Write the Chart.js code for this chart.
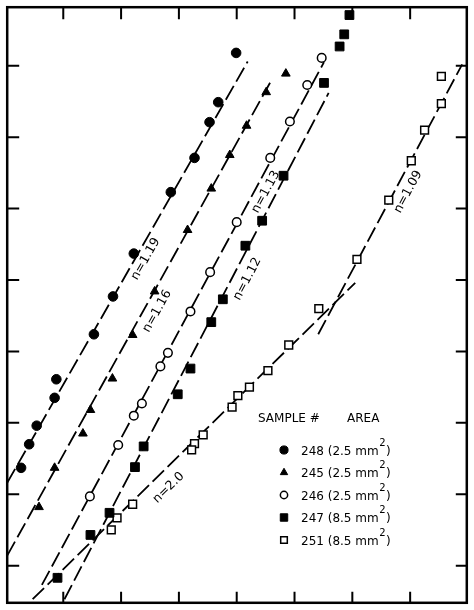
<!DOCTYPE html>
<html>
<head>
<meta charset="utf-8">
<script src="https://cdn.jsdelivr.net/npm/chart.js@4.4.0/dist/chart.umd.min.js"></script>
<style>
  html, body { margin: 0; padding: 0; background: #fff; }
</style>
</head>
<body>
<canvas id="chart" width="474" height="610"></canvas>
<script>
// sample ids and contact areas (legend)
const samples = ["248", "245", "246", "247", "251"];
const areas = ["2.5", "2.5", "2.5", "8.5", "8.5"];

// measured points, axis units (no printed scale on the original)
const x248 = [3.99, 3.68, 3.53, 3.27, 2.86, 2.22, 1.86, 1.53, 0.88, 0.85, 0.54, 0.41, 0.27];
const y248 = [7.18, 6.49, 6.21, 5.71, 5.23, 4.37, 3.77, 3.24, 2.61, 2.35, 1.96, 1.70, 1.37];
const x245 = [4.85, 4.51, 4.17, 3.88, 3.56, 3.15, 2.58, 2.20, 1.85, 1.47, 1.34, 0.85, 0.58];
const y245 = [6.89, 6.63, 6.16, 5.75, 5.28, 4.70, 3.84, 3.23, 2.62, 2.18, 1.85, 1.37, 0.82];
const x246 = [5.47, 5.22, 4.92, 4.58, 4.00, 3.54, 3.20, 2.81, 2.68, 2.36, 2.22, 1.95, 1.46];
const y246 = [7.11, 6.73, 6.22, 5.71, 4.81, 4.11, 3.56, 2.98, 2.79, 2.27, 2.10, 1.69, 0.97];
const x247 = [5.95, 5.86, 5.78, 5.51, 4.81, 4.44, 4.15, 3.76, 3.56, 3.20, 2.98, 2.39, 2.24, 1.80, 1.47, 0.90];
const y247 = [7.71, 7.44, 7.27, 6.76, 5.46, 4.83, 4.48, 3.73, 3.41, 2.76, 2.40, 1.67, 1.38, 0.74, 0.43, -0.17];
const x251 = [7.54, 7.54, 7.25, 7.02, 6.63, 6.08, 5.42, 4.90, 4.54, 4.22, 4.02, 3.92, 3.42, 3.27, 3.22, 2.20, 1.93, 1.83];
const y251 = [6.85, 6.47, 6.10, 5.67, 5.12, 4.29, 3.60, 3.09, 2.73, 2.50, 2.38, 2.22, 1.83, 1.71, 1.62, 0.86, 0.67, 0.50];

// fitted lines: end points and the slope notes beside them
const fitNames = ["n=1.19", "n=1.16", "n=1.13", "n=1.12", "n=1.09", "n=2.0"];
const fitX0 = [0.03, 0.03, 0.63, 1.02, 5.41, 0.47];
const fitY0 = [1.16, 0.14, -0.27, -0.47, 3.24, -0.47];
const fitX1 = [4.19, 4.61, 5.51, 5.59, 7.90, 6.05];
const fitY1 = [7.06, 6.81, 7.05, 6.62, 7.02, 3.96];
const noteX = [2.41, 2.61, 4.49, 4.17, 6.95, 2.81];
const noteY = [4.30, 3.57, 5.24, 4.02, 5.24, 1.10];

const xTicks = [1, 2, 3, 4, 5, 6, 7];
const yTicks = [0, 1, 2, 3, 4, 5, 6, 7];

const xs = [x248, x245, x246, x247, x251];
const ys = [y248, y245, y246, y247, y251];
const markers = [
    {pointStyle: "circle", radius: 4.8, fill: "#000", width: 1},
    {pointStyle: "triangle", radius: 5, fill: "#000", width: 1},
    {pointStyle: "circle", radius: 4.3, fill: "#fff", width: 1.5},
    {pointStyle: "rect", radius: 6.2, fill: "#000", width: 1},
    {pointStyle: "rect", radius: 5.5, fill: "#fff", width: 1.5}
];

const pointSets = samples.map((s, i) => ({
    label: `${s} (${areas[i]} mm²)`,
    data: xs[i].map((x, j) => ({x: x, y: ys[i][j]})),
    showLine: false,
    pointStyle: markers[i].pointStyle,
    pointRadius: markers[i].radius,
    pointBackgroundColor: markers[i].fill,
    pointBorderColor: "#000",
    pointBorderWidth: markers[i].width,
    order: 0
}));

const lineSets = fitNames.map((n, i) => ({
    label: n,
    data: [{x: fitX0[i], y: fitY0[i]}, {x: fitX1[i], y: fitY1[i]}],
    showLine: true,
    borderColor: "#000",
    borderWidth: 1.8,
    borderDash: [16, 5],
    pointRadius: 0,
    order: 1
}));

const framePlugin = {
    id: "frame",
    afterDatasetsDraw: (chart) => {
        const {ctx, chartArea: {left, right, top, bottom}, scales: {x, y}} = chart;
        ctx.save();
        ctx.strokeStyle = "#000";
        ctx.fillStyle = "#000";

        // slope notes, turned along their line
        ctx.font = "12.5px 'DejaVu Sans'";
        ctx.textAlign = "center";
        ctx.textBaseline = "middle";
        fitNames.forEach((n, i) => {
            const ang = Math.atan2(y.getPixelForValue(fitY1[i]) - y.getPixelForValue(fitY0[i]),
                x.getPixelForValue(fitX1[i]) - x.getPixelForValue(fitX0[i]));
            ctx.save();
            ctx.translate(x.getPixelForValue(noteX[i]), y.getPixelForValue(noteY[i]));
            ctx.rotate(ang);
            ctx.fillText(n, 0, 1);
            ctx.restore();
        });

        // legend block
        ctx.textAlign = "left";
        ctx.textBaseline = "alphabetic";
        ctx.font = "12px 'DejaVu Sans'";
        ctx.fillText("SAMPLE #", 258, 422);
        ctx.fillText("AREA", 347, 422);
        samples.forEach((s, i) => {
            const cy = 450 + i * 22.5;
            ctx.fillStyle = markers[i].fill;
            ctx.lineWidth = markers[i].width;
            Chart.helpers.drawPoint(ctx, {
                pointStyle: markers[i].pointStyle,
                radius: markers[i].radius * 0.85,
                borderWidth: markers[i].width,
                rotation: 0
            }, 284, cy);
            ctx.fillStyle = "#000";
            ctx.font = "12px 'DejaVu Sans'";
            const base = `${s} (${areas[i]} mm`;
            ctx.fillText(base, 301, cy + 4.5);
            let px = 301 + ctx.measureText(base).width;
            ctx.font = "10px 'DejaVu Sans'";
            ctx.fillText("2", px + 0.5, cy - 4.5);
            px += ctx.measureText("2").width + 1;
            ctx.font = "12px 'DejaVu Sans'";
            ctx.fillText(")", px, cy + 4.5);
        });

        // frame and inward ticks
        ctx.lineWidth = 2.5;
        ctx.strokeRect(left, top, right - left, bottom - top);
        ctx.lineWidth = 2;
        ctx.beginPath();
        xTicks.forEach(v => {
            const px = x.getPixelForValue(v);
            ctx.moveTo(px, bottom);
            ctx.lineTo(px, bottom - 11);
            ctx.moveTo(px, top);
            ctx.lineTo(px, top + 12);
        });
        yTicks.forEach(v => {
            const py = y.getPixelForValue(v);
            ctx.moveTo(left, py);
            ctx.lineTo(left + 12, py);
            ctx.moveTo(right, py);
            ctx.lineTo(right - 11, py);
        });
        ctx.stroke();
        ctx.restore();
    }
};

new Chart(document.getElementById("chart"), {
    type: "scatter",
    data: {datasets: [...pointSets, ...lineSets]},
    options: {
        responsive: false,
        animation: false,
        layout: {padding: {left: 3, right: 2, top: 1, bottom: 4}},
        plugins: {legend: {display: false}, tooltip: {enabled: false}},
        scales: {
            x: {type: "linear", min: 0.03, max: 7.98, display: false},
            y: {type: "linear", min: -0.52, max: 7.82, display: false}
        }
    },
    plugins: [framePlugin]
});
</script>
</body>
</html>
